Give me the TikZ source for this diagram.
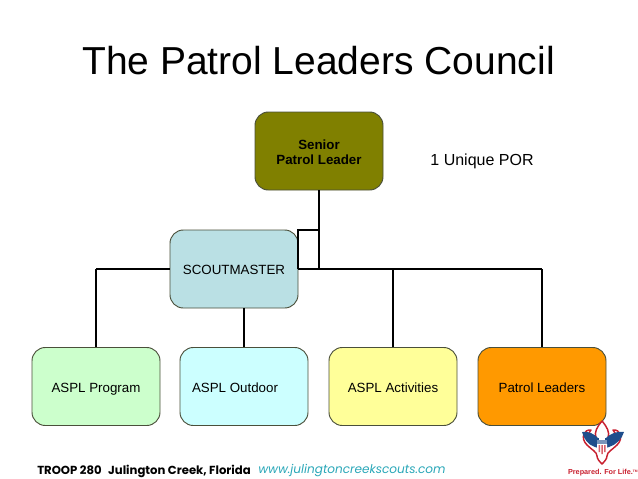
\documentclass[tikz,border=0pt]{standalone}
\usepackage{fontspec}
\setmainfont{Liberation Sans}
\newfontfamily\footfont{Poppins}
\definecolor{seniorfill}{HTML}{808000}
\definecolor{scoutfill}{HTML}{BAE0E4}
\definecolor{programfill}{HTML}{CCFFCC}
\definecolor{outdoorfill}{HTML}{CCFFFF}
\definecolor{activityfill}{HTML}{FFFF99}
\definecolor{leaderfill}{HTML}{FF9900}
\definecolor{boxline}{HTML}{4A4F3A}
\definecolor{linkcolor}{HTML}{2AA7B8}
\definecolor{bsared}{HTML}{C8202F}
\definecolor{bsablue}{HTML}{1F4E8C}
\begin{document}
\begin{tikzpicture}[x=0.75pt,y=-0.75pt,
    orgbox/.style={draw=boxline, line width=0.7pt, rounded corners=10pt, minimum width=96pt,
        minimum height=58.5pt, inner sep=0pt, align=center, text height=10.7pt, text depth=2pt,
        font=\fontsize{10}{11.25}\selectfont},
    orgline/.style={line width=1.5pt, black}]
    \useasboundingbox (0,0) rectangle (638,478);
    % Title
    \node (title) at (318.5,61) {\fontsize{29.25}{35}\selectfont The Patrol Leaders Council};
    % Links go under the boxes
    \coordinate (trunk) at (319,269);
    \coordinate (bend) at (319,229.5);
    \coordinate (bendleft) at (297.5,229.5);
    \coordinate (busleft) at (96,269);
    \coordinate (busright) at (542,269);
    \coordinate (scoutright) at (297.5,269);
    % Boxes
    \node[orgbox, fill=seniorfill, text height=, text depth=] (senior) at (319,151)
        {\rule{0pt}{9.5pt}\textbf{Senior}\\\textbf{Patrol Leader}};
    \node[orgbox, fill=scoutfill] (scout) at (234,269) {SCOUTMASTER};
    \node[orgbox, fill=programfill] (program) at (96,386.5) {ASPL Program};
    \node[orgbox, fill=outdoorfill] (outdoor) at (244,386.5) {ASPL Outdoor\hspace*{13.5pt}};
    \node[orgbox, fill=activityfill] (activity) at (393,386.5) {ASPL Activities};
    \node[orgbox, fill=leaderfill] (leaders) at (542,386.5) {Patrol Leaders};
    \node (por) at (482,161.5) {\fontsize{12}{14}\selectfont 1 Unique POR};
    % Edges
    \draw[orgline] (senior) -- (trunk);
    \draw[orgline] (bend) -- (bendleft) -- (scoutright);
    \draw[orgline] (scout) -- (busright);
    \draw[orgline] (scout) -- (busleft);
    \draw[orgline] (busleft) -- (program);
    \draw[orgline] (scout.south -| outdoor) -- (outdoor);
    \draw[orgline] (trunk -| activity) -- (activity);
    \draw[orgline] (busright) -- (leaders);
    % Footer
    \node[anchor=west, inner sep=0pt] (troop) at (37,471)
        {\footfont\fontsize{8.75}{12}\selectfont\bfseries TROOP 280\hspace{3pt} Julington Creek, Florida};
    \node[anchor=west, inner sep=0pt, text=linkcolor] (site) at (258,471)
        {\footfont\fontsize{9.05}{12}\selectfont\itshape www.julingtoncreekscouts.com};
    % Logo
    \draw[bsared, line width=1.1pt, fill=white, line join=round] (602,421)
        .. controls (597,427) and (594,432) .. (596,438)
        .. controls (590,440) and (586,434) .. (591,430)
        .. controls (584,429) and (580,438) .. (587,445)
        .. controls (592,450) and (597,452) .. (597,456)
        .. controls (597,459) and (600,462) .. (602,464)
        .. controls (604,462) and (607,459) .. (607,456)
        .. controls (607,452) and (612,450) .. (617,445)
        .. controls (624,438) and (620,429) .. (613,430)
        .. controls (618,434) and (614,440) .. (608,438)
        .. controls (610,432) and (607,427) .. (602,421) -- cycle;
    \fill[bsablue] (582,432) .. controls (589,431) and (594,434) .. (598,438)
        -- (606,438) .. controls (610,434) and (616,431) .. (624,432)
        .. controls (622,439) and (616,445) .. (609,447)
        -- (602,449) -- (595,447) .. controls (588,445) and (584,439) .. (582,432) -- cycle;
    \fill[white] (599,434) rectangle (605,440);
    \fill[bsablue!60!white] (597,440) rectangle (607,444);
    \fill[white] (597,444) -- (607,444) -- (607,449) .. controls (607,452) and (604,454) .. (602,455)
        .. controls (600,454) and (597,452) .. (597,449) -- cycle;
    \fill[bsared!70!white] (598.5,445) rectangle (600,452) (601.3,445) rectangle (602.8,454) (604,445) rectangle (605.5,452);
    \node[inner sep=0pt, text=bsared, anchor=east] (motto) at (638,473)
        {\fontsize{5.45}{7}\selectfont\bfseries Prepared. For Life.\raisebox{2pt}{\fontsize{2.5}{3}\selectfont TM}};
\end{tikzpicture}
\end{document}
